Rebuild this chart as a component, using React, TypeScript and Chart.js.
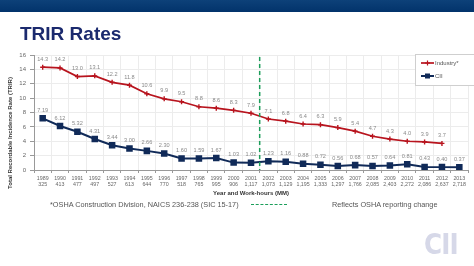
import React, { useEffect, useRef } from "react";
import { Chart, registerables } from "chart.js";

Chart.register(...registerables);

const years = ["1989","1990","1991","1992","1993","1994","1995","1996","1997","1998","1999","2000","2001","2002","2003","2004","2005","2006","2007","2008","2009","2010","2011","2012","2013"];
const workHours = ["325","413","477","497","527","613","644","770","518","765","995","906","1,117","1,073","1,129","1,195","1,333","1,297","1,766","2,085","2,403","2,272","2,086","2,637","2,718"];
const industry = [14.3,14.2,13.0,13.1,12.2,11.8,10.6,9.9,9.5,8.8,8.6,8.3,7.9,7.1,6.8,6.4,6.3,5.9,5.4,4.7,4.3,4.0,3.9,3.7,null];
const cii = [7.19,6.12,5.32,4.31,3.44,3.00,2.66,2.30,1.60,1.59,1.67,1.03,1.02,1.23,1.16,0.88,0.72,0.56,0.68,0.57,0.64,0.81,0.43,0.40,0.37];
const yTicks = [0,2,4,6,8,10,12,14,16];
const changeAfterIndex = 12; // OSHA reporting change between 2001 and 2002

const RED = "#b8141e";
const NAVY = "#102a58";
const GREEN = "#1c9e5a";
const FONT = "'Liberation Sans', Arial, sans-serif";

const overlayPlugin = {
  id: "overlay",
  afterDatasetsDraw(chart: any) {
    const ctx = chart.ctx;
    const ca = chart.chartArea;
    const xs = chart.scales.x;
    // dashed change line
    const xm = (xs.getPixelForValue(changeAfterIndex) + xs.getPixelForValue(changeAfterIndex + 1)) / 2;
    ctx.save();
    ctx.strokeStyle = GREEN;
    ctx.lineWidth = 1.5;
    ctx.setLineDash([4, 3]);
    ctx.beginPath();
    ctx.moveTo(xm, ca.top + 2);
    ctx.lineTo(xm, ca.bottom);
    ctx.stroke();
    ctx.restore();

    // data labels
    ctx.save();
    ctx.fillStyle = "#8a8a8a";
    ctx.font = `5.6px ${FONT}`;
    ctx.textAlign = "center";
    ctx.textBaseline = "middle";
    chart.data.datasets.forEach((ds: any, di: number) => {
      const meta = chart.getDatasetMeta(di);
      meta.data.forEach((pt: any, i: number) => {
        const v = ds.data[i];
        if (v == null) return;
        ctx.fillText(v.toFixed(di === 0 ? 1 : 2), pt.x, pt.y - 8);
      });
    });
    ctx.restore();

    // axis titles
    ctx.save();
    ctx.fillStyle = "#333";
    ctx.font = `bold 6px ${FONT}`;
    ctx.textAlign = "center";
    ctx.textBaseline = "middle";
    ctx.fillText("Year and Work-hours (MM)", (ca.left + ca.right) / 2, ca.bottom + 23);
    ctx.translate(10, 133);
    ctx.rotate(-Math.PI / 2);
    ctx.fillText("Total Recordable Incidence Rate (TRIR)", 0, 0);
    ctx.restore();

    // legend
    const bx = ca.right - 53, by = ca.top - 1, bw = 60, bh = 31;
    ctx.save();
    ctx.fillStyle = "#fff";
    ctx.fillRect(bx, by, bw, bh);
    ctx.strokeStyle = "#cfcfcf";
    ctx.lineWidth = 1;
    ctx.strokeRect(bx + 0.5, by + 0.5, bw, bh);
    chart.data.datasets.forEach((ds: any, di: number) => {
      const y = by + 9 + di * 13;
      ctx.strokeStyle = ds.borderColor;
      ctx.lineWidth = ds.borderWidth;
      ctx.beginPath();
      ctx.moveTo(bx + 6, y);
      ctx.lineTo(bx + 19, y);
      ctx.stroke();
      ctx.fillStyle = ds.borderColor;
      if (di === 0) {
        ctx.lineWidth = 1.2;
        ctx.beginPath();
        ctx.moveTo(bx + 12.5, y - 2.5); ctx.lineTo(bx + 12.5, y + 2.5);
        ctx.moveTo(bx + 10, y); ctx.lineTo(bx + 15, y);
        ctx.stroke();
      } else {
        ctx.fillRect(bx + 10, y - 2.5, 5, 5);
      }
      ctx.fillStyle = "#555";
      ctx.font = `6px ${FONT}`;
      ctx.textAlign = "left";
      ctx.textBaseline = "middle";
      ctx.fillText(ds.label, bx + 20, y);
    });
    ctx.restore();
  },
};

export default function App() {
  const ref = useRef<HTMLCanvasElement>(null);
  useEffect(() => {
    const chart = new Chart(ref.current!, {
      type: "line",
      data: {
        labels: years.map((y, i) => [y, workHours[i]]),
        datasets: [
          {
            label: "Industry*",
            data: industry,
            borderColor: RED,
            backgroundColor: RED,
            borderWidth: 1.7,
            pointStyle: "cross",
            pointRadius: 2.5,
            pointBorderWidth: 1.4,
            tension: 0,
          },
          {
            label: "CII",
            data: cii,
            borderColor: NAVY,
            backgroundColor: NAVY,
            borderWidth: 2,
            pointStyle: "rect",
            pointRadius: 3.2,
            tension: 0,
          },
        ],
      },
      options: {
        animation: false,
        responsive: false,
        layout: { padding: { top: 55, right: 6, bottom: 76, left: 0 } },
        plugins: { legend: { display: false }, tooltip: { enabled: false } },
        scales: {
          x: {
            offset: true,
            grid: { offset: true, color: "#ececec", tickLength: 3, tickColor: "#999" },
            border: { color: "#999" },
            ticks: { color: "#666", font: { size: 5.3, family: FONT, lineHeight: 1.25 }, padding: 2, maxRotation: 0, autoSkip: false },
            afterFit: (s: any) => { s.height = 20; },
          },
          y: {
            min: 0,
            max: 16,
            afterBuildTicks: (s: any) => { s.ticks = yTicks.map((v) => ({ value: v })); },
            grid: { color: "#ececec", tickLength: 4, tickColor: "#999" },
            border: { color: "#999" },
            ticks: { color: "#666", font: { size: 6, family: FONT }, padding: 4 },
            afterFit: (s: any) => { s.width = 34; },
          },
        },
      },
      plugins: [overlayPlugin],
    });
    return () => chart.destroy();
  }, []);

  return (
    <div style={{ position: "fixed", left: 0, top: 0, width: 474, height: 266, background: "#fff", overflow: "hidden", fontFamily: FONT }}>
      <canvas ref={ref} width={474} height={266} style={{ position: "absolute", left: 0, top: 0 }} />
      <div style={{ position: "absolute", left: 0, top: 0, width: 474, height: 12, background: "linear-gradient(#0d4179, #02336b)" }} />
      <div style={{ position: "absolute", left: 20, top: 22, fontSize: 19, fontWeight: "bold", color: "#1b2a6e", lineHeight: "24px" }}>TRIR Rates</div>
      <div style={{ position: "absolute", left: 50, top: 200, fontSize: 7.3, color: "#555", lineHeight: "10px", whiteSpace: "nowrap" }}>*OSHA Construction Division, NAICS 236-238 (SIC 15-17)</div>
      <div style={{ position: "absolute", left: 251, top: 204, width: 36, borderTop: `1.5px dashed ${GREEN}` }} />
      <div style={{ position: "absolute", left: 332, top: 200, fontSize: 7.3, color: "#555", lineHeight: "10px", whiteSpace: "nowrap" }}>Reflects OSHA reporting change</div>
      <div style={{ position: "absolute", left: 424, top: 229, fontSize: 29, fontWeight: 900, color: "#d6d8e8", fontFamily: "'DejaVu Sans', sans-serif", letterSpacing: -1, lineHeight: "30px", transform: "scaleX(0.85)", transformOrigin: "left" }}>CII</div>
    </div>
  );
}
